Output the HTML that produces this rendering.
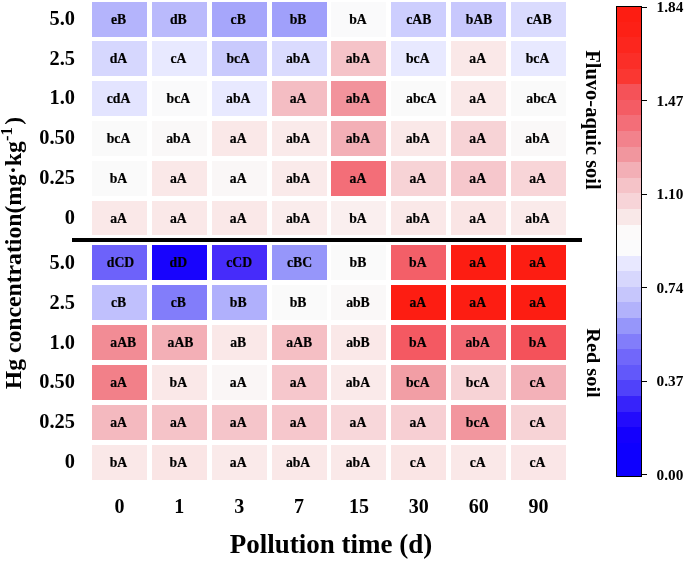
<!DOCTYPE html>
<html><head><meta charset="utf-8"><title>Heatmap</title>
<style>
html,body{margin:0;padding:0;background:#fff;}
body{width:685px;height:561px;position:relative;overflow:hidden;font-family:"Liberation Serif",serif;font-weight:bold;color:#000;}
.c{position:absolute;width:55.00px;height:34.90px;text-align:center;line-height:35.30px;font-size:13.7px;-webkit-text-stroke:0.2px #000;}
.c span{display:inline-block;position:relative;transform:scaleY(1.06);}
.r{position:absolute;left:0;width:75px;text-align:right;font-size:20px;line-height:24px;height:24px;transform:scaleX(1.02);transform-origin:100% 50%;}
.x{position:absolute;width:60px;text-align:center;font-size:20px;line-height:24px;height:24px;top:494.3px;}
.t{position:absolute;font-size:15.3px;line-height:18px;height:18px;left:656.6px;}
.k{position:absolute;left:641.8px;width:5px;height:1px;background:#000;}
.b{position:absolute;left:617.8px;width:23.5px;}
.rot{position:absolute;white-space:nowrap;transform-origin:center center;}
</style></head><body>

<div class="c" style="left:92.00px;top:1.80px;background:rgb(180,180,252)"><span style="left:-1px">eB</span></div>
<div class="c" style="left:151.86px;top:1.80px;background:rgb(186,186,252)"><span style="left:-1px">dB</span></div>
<div class="c" style="left:211.72px;top:1.80px;background:rgb(166,166,251)"><span style="left:-1px">cB</span></div>
<div class="c" style="left:271.58px;top:1.80px;background:rgb(160,160,251)"><span style="left:-1px">bB</span></div>
<div class="c" style="left:331.44px;top:1.80px;background:rgb(250,250,251)"><span style="left:-1px">bA</span></div>
<div class="c" style="left:391.30px;top:1.80px;background:rgb(205,206,254)"><span style="left:0px">cAB</span></div>
<div class="c" style="left:451.16px;top:1.80px;background:rgb(200,200,253)"><span style="left:0.5px">bAB</span></div>
<div class="c" style="left:511.02px;top:1.80px;background:rgb(218,219,254)"><span style="left:0.5px">cAB</span></div>
<div class="r" style="top:6.35px">5.0</div>
<div class="c" style="left:92.00px;top:41.10px;background:rgb(214,215,254)"><span style="left:-1px">dA</span></div>
<div class="c" style="left:151.86px;top:41.10px;background:rgb(232,233,255)"><span style="left:-1px">cA</span></div>
<div class="c" style="left:211.72px;top:41.10px;background:rgb(201,202,253)"><span style="left:-1px">bcA</span></div>
<div class="c" style="left:271.58px;top:41.10px;background:rgb(218,219,254)"><span style="left:-1px">abA</span></div>
<div class="c" style="left:331.44px;top:41.10px;background:rgb(245,195,200)"><span style="left:-1px">abA</span></div>
<div class="c" style="left:391.30px;top:41.10px;background:rgb(232,233,255)"><span style="left:-1px">bcA</span></div>
<div class="c" style="left:451.16px;top:41.10px;background:rgb(250,232,232)"><span style="left:-1px">aA</span></div>
<div class="c" style="left:511.02px;top:41.10px;background:rgb(232,233,255)"><span style="left:-1px">bcA</span></div>
<div class="r" style="top:45.65px">2.5</div>
<div class="c" style="left:92.00px;top:80.90px;background:rgb(227,228,255)"><span style="left:-1px">cdA</span></div>
<div class="c" style="left:151.86px;top:80.90px;background:rgb(250,250,251)"><span style="left:-1px">bcA</span></div>
<div class="c" style="left:211.72px;top:80.90px;background:rgb(232,233,255)"><span style="left:-1px">abA</span></div>
<div class="c" style="left:271.58px;top:80.90px;background:rgb(244,189,195)"><span style="left:-1px">aA</span></div>
<div class="c" style="left:331.44px;top:80.90px;background:rgb(242,147,156)"><span style="left:-1px">abA</span></div>
<div class="c" style="left:391.30px;top:80.90px;background:rgb(250,250,250)"><span style="left:2.5px">abcA</span></div>
<div class="c" style="left:451.16px;top:80.90px;background:rgb(250,232,232)"><span style="left:-1px">aA</span></div>
<div class="c" style="left:511.02px;top:80.90px;background:rgb(250,250,250)"><span style="left:3px">abcA</span></div>
<div class="r" style="top:85.45px">1.0</div>
<div class="c" style="left:92.00px;top:120.90px;background:rgb(250,250,250)"><span style="left:-1px">bcA</span></div>
<div class="c" style="left:151.86px;top:120.90px;background:rgb(250,248,248)"><span style="left:-1px">abA</span></div>
<div class="c" style="left:211.72px;top:120.90px;background:rgb(250,232,232)"><span style="left:-1px">aA</span></div>
<div class="c" style="left:271.58px;top:120.90px;background:rgb(250,234,234)"><span style="left:-1px">abA</span></div>
<div class="c" style="left:331.44px;top:120.90px;background:rgb(243,175,182)"><span style="left:-1px">abA</span></div>
<div class="c" style="left:391.30px;top:120.90px;background:rgb(250,232,232)"><span style="left:-1px">abA</span></div>
<div class="c" style="left:451.16px;top:120.90px;background:rgb(247,211,214)"><span style="left:-1px">aA</span></div>
<div class="c" style="left:511.02px;top:120.90px;background:rgb(250,248,248)"><span style="left:-1px">abA</span></div>
<div class="r" style="top:125.45px">0.50</div>
<div class="c" style="left:92.00px;top:160.70px;background:rgb(250,250,250)"><span style="left:-1px">bA</span></div>
<div class="c" style="left:151.86px;top:160.70px;background:rgb(250,232,232)"><span style="left:-1px">aA</span></div>
<div class="c" style="left:211.72px;top:160.70px;background:rgb(250,247,247)"><span style="left:-1px">aA</span></div>
<div class="c" style="left:271.58px;top:160.70px;background:rgb(250,234,234)"><span style="left:-1px">abA</span></div>
<div class="c" style="left:331.44px;top:160.70px;background:rgb(243,110,120)"><span style="left:-1px">aA</span></div>
<div class="c" style="left:391.30px;top:160.70px;background:rgb(247,211,214)"><span style="left:-1px">aA</span></div>
<div class="c" style="left:451.16px;top:160.70px;background:rgb(246,199,204)"><span style="left:-1px">aA</span></div>
<div class="c" style="left:511.02px;top:160.70px;background:rgb(248,213,216)"><span style="left:-1px">aA</span></div>
<div class="r" style="top:165.25px">0.25</div>
<div class="c" style="left:92.00px;top:200.60px;background:rgb(250,232,232)"><span style="left:-1px">aA</span></div>
<div class="c" style="left:151.86px;top:200.60px;background:rgb(250,232,232)"><span style="left:-1px">aA</span></div>
<div class="c" style="left:211.72px;top:200.60px;background:rgb(250,232,232)"><span style="left:-1px">aA</span></div>
<div class="c" style="left:271.58px;top:200.60px;background:rgb(250,236,236)"><span style="left:-1px">abA</span></div>
<div class="c" style="left:331.44px;top:200.60px;background:rgb(250,239,239)"><span style="left:-1px">bA</span></div>
<div class="c" style="left:391.30px;top:200.60px;background:rgb(250,232,232)"><span style="left:-1px">abA</span></div>
<div class="c" style="left:451.16px;top:200.60px;background:rgb(250,229,229)"><span style="left:-1px">aA</span></div>
<div class="c" style="left:511.02px;top:200.60px;background:rgb(250,234,234)"><span style="left:-1px">abA</span></div>
<div class="r" style="top:205.15px">0</div>
<div class="c" style="left:92.00px;top:245.30px;background:rgb(109,98,250)"><span style="left:1px">dCD</span></div>
<div class="c" style="left:151.86px;top:245.30px;background:rgb(24,4,253)"><span style="left:-1px">dD</span></div>
<div class="c" style="left:211.72px;top:245.30px;background:rgb(70,44,250)"><span style="left:0px">cCD</span></div>
<div class="c" style="left:271.58px;top:245.30px;background:rgb(150,150,250)"><span style="left:0.5px">cBC</span></div>
<div class="c" style="left:331.44px;top:245.30px;background:rgb(250,250,250)"><span style="left:-1px">bB</span></div>
<div class="c" style="left:391.30px;top:245.30px;background:rgb(243,95,104)"><span style="left:-1px">bA</span></div>
<div class="c" style="left:451.16px;top:245.30px;background:rgb(253,29,18)"><span style="left:-1px">aA</span></div>
<div class="c" style="left:511.02px;top:245.30px;background:rgb(253,29,18)"><span style="left:-1px">aA</span></div>
<div class="r" style="top:249.85px">5.0</div>
<div class="c" style="left:92.00px;top:285.17px;background:rgb(192,192,253)"><span style="left:-1px">cB</span></div>
<div class="c" style="left:151.86px;top:285.17px;background:rgb(130,125,250)"><span style="left:-1px">cB</span></div>
<div class="c" style="left:211.72px;top:285.17px;background:rgb(176,176,252)"><span style="left:-1px">bB</span></div>
<div class="c" style="left:271.58px;top:285.17px;background:rgb(250,250,250)"><span style="left:-1px">bB</span></div>
<div class="c" style="left:331.44px;top:285.17px;background:rgb(250,248,248)"><span style="left:-1px">abB</span></div>
<div class="c" style="left:391.30px;top:285.17px;background:rgb(253,29,18)"><span style="left:-1px">aA</span></div>
<div class="c" style="left:451.16px;top:285.17px;background:rgb(253,29,18)"><span style="left:-1px">aA</span></div>
<div class="c" style="left:511.02px;top:285.17px;background:rgb(253,29,18)"><span style="left:-1px">aA</span></div>
<div class="r" style="top:289.72px">2.5</div>
<div class="c" style="left:92.00px;top:325.04px;background:rgb(242,140,149)"><span style="left:3.8px">aAB</span></div>
<div class="c" style="left:151.86px;top:325.04px;background:rgb(243,175,182)"><span style="left:1.2px">aAB</span></div>
<div class="c" style="left:211.72px;top:325.04px;background:rgb(250,232,232)"><span style="left:-1px">aB</span></div>
<div class="c" style="left:271.58px;top:325.04px;background:rgb(245,191,196)"><span style="left:0.2px">aAB</span></div>
<div class="c" style="left:331.44px;top:325.04px;background:rgb(250,232,232)"><span style="left:-1px">abB</span></div>
<div class="c" style="left:391.30px;top:325.04px;background:rgb(244,89,98)"><span style="left:-1px">bA</span></div>
<div class="c" style="left:451.16px;top:325.04px;background:rgb(243,105,115)"><span style="left:-1px">abA</span></div>
<div class="c" style="left:511.02px;top:325.04px;background:rgb(244,82,90)"><span style="left:-1px">bA</span></div>
<div class="r" style="top:329.59px">1.0</div>
<div class="c" style="left:92.00px;top:364.91px;background:rgb(242,128,137)"><span style="left:-1px">aA</span></div>
<div class="c" style="left:151.86px;top:364.91px;background:rgb(250,232,232)"><span style="left:-1px">bA</span></div>
<div class="c" style="left:211.72px;top:364.91px;background:rgb(250,246,246)"><span style="left:-1px">aA</span></div>
<div class="c" style="left:271.58px;top:364.91px;background:rgb(246,199,204)"><span style="left:-1px">aA</span></div>
<div class="c" style="left:331.44px;top:364.91px;background:rgb(250,234,234)"><span style="left:-1px">abA</span></div>
<div class="c" style="left:391.30px;top:364.91px;background:rgb(242,158,165)"><span style="left:-1px">bcA</span></div>
<div class="c" style="left:451.16px;top:364.91px;background:rgb(247,211,214)"><span style="left:-1px">bcA</span></div>
<div class="c" style="left:511.02px;top:364.91px;background:rgb(243,177,184)"><span style="left:-1px">cA</span></div>
<div class="r" style="top:369.46px">0.50</div>
<div class="c" style="left:92.00px;top:404.78px;background:rgb(244,185,191)"><span style="left:-1px">aA</span></div>
<div class="c" style="left:151.86px;top:404.78px;background:rgb(245,195,200)"><span style="left:-1px">aA</span></div>
<div class="c" style="left:211.72px;top:404.78px;background:rgb(245,197,202)"><span style="left:-1px">aA</span></div>
<div class="c" style="left:271.58px;top:404.78px;background:rgb(246,199,204)"><span style="left:-1px">aA</span></div>
<div class="c" style="left:331.44px;top:404.78px;background:rgb(248,215,218)"><span style="left:-1px">aA</span></div>
<div class="c" style="left:391.30px;top:404.78px;background:rgb(247,207,211)"><span style="left:-1px">aA</span></div>
<div class="c" style="left:451.16px;top:404.78px;background:rgb(242,150,158)"><span style="left:-1px">bcA</span></div>
<div class="c" style="left:511.02px;top:404.78px;background:rgb(247,211,214)"><span style="left:-1px">cA</span></div>
<div class="r" style="top:409.33px">0.25</div>
<div class="c" style="left:92.00px;top:444.65px;background:rgb(250,232,232)"><span style="left:-1px">bA</span></div>
<div class="c" style="left:151.86px;top:444.65px;background:rgb(250,229,229)"><span style="left:-1px">bA</span></div>
<div class="c" style="left:211.72px;top:444.65px;background:rgb(250,234,234)"><span style="left:-1px">aA</span></div>
<div class="c" style="left:271.58px;top:444.65px;background:rgb(250,232,232)"><span style="left:-1px">abA</span></div>
<div class="c" style="left:331.44px;top:444.65px;background:rgb(250,233,233)"><span style="left:-1px">abA</span></div>
<div class="c" style="left:391.30px;top:444.65px;background:rgb(250,229,229)"><span style="left:-1px">cA</span></div>
<div class="c" style="left:451.16px;top:444.65px;background:rgb(250,232,232)"><span style="left:-1px">cA</span></div>
<div class="c" style="left:511.02px;top:444.65px;background:rgb(250,230,231)"><span style="left:-1px">cA</span></div>
<div class="r" style="top:449.20px">0</div>
<div style="position:absolute;left:72px;top:238.4px;width:510px;height:4px;background:#000"></div>
<div class="x" style="left:89.50px">0</div>
<div class="x" style="left:149.36px">1</div>
<div class="x" style="left:209.22px">3</div>
<div class="x" style="left:269.08px">7</div>
<div class="x" style="left:328.94px">15</div>
<div class="x" style="left:388.80px">30</div>
<div class="x" style="left:448.66px">60</div>
<div class="x" style="left:508.52px">90</div>
<div style="position:absolute;left:616.1px;top:6.4px;width:24.2px;height:468.2px;border:1px solid #000;box-sizing:content-box;overflow:hidden;background:rgb(14,0,254)">
<div style="position:absolute;left:0;width:25px;top:-1.15px;height:15.99px;background:rgb(253,29,18)"></div>
<div style="position:absolute;left:0;width:25px;top:14.44px;height:15.99px;background:rgb(253,32,22)"></div>
<div style="position:absolute;left:0;width:25px;top:30.03px;height:15.99px;background:rgb(252,38,30)"></div>
<div style="position:absolute;left:0;width:25px;top:45.62px;height:15.99px;background:rgb(251,46,40)"></div>
<div style="position:absolute;left:0;width:25px;top:61.21px;height:15.99px;background:rgb(250,55,50)"></div>
<div style="position:absolute;left:0;width:25px;top:76.80px;height:15.99px;background:rgb(245,82,88)"></div>
<div style="position:absolute;left:0;width:25px;top:92.39px;height:15.99px;background:rgb(244,92,100)"></div>
<div style="position:absolute;left:0;width:25px;top:107.98px;height:15.99px;background:rgb(243,110,120)"></div>
<div style="position:absolute;left:0;width:25px;top:123.57px;height:15.99px;background:rgb(242,130,140)"></div>
<div style="position:absolute;left:0;width:25px;top:139.16px;height:15.99px;background:rgb(241,150,158)"></div>
<div style="position:absolute;left:0;width:25px;top:154.75px;height:15.99px;background:rgb(243,175,182)"></div>
<div style="position:absolute;left:0;width:25px;top:170.34px;height:15.99px;background:rgb(245,195,200)"></div>
<div style="position:absolute;left:0;width:25px;top:185.93px;height:15.99px;background:rgb(247,212,216)"></div>
<div style="position:absolute;left:0;width:25px;top:201.52px;height:15.99px;background:rgb(249,232,232)"></div>
<div style="position:absolute;left:0;width:25px;top:217.11px;height:15.99px;background:rgb(252,250,250)"></div>
<div style="position:absolute;left:0;width:25px;top:232.70px;height:15.99px;background:rgb(251,251,252)"></div>
<div style="position:absolute;left:0;width:25px;top:248.29px;height:15.99px;background:rgb(232,232,255)"></div>
<div style="position:absolute;left:0;width:25px;top:263.88px;height:15.99px;background:rgb(215,215,253)"></div>
<div style="position:absolute;left:0;width:25px;top:279.47px;height:15.99px;background:rgb(198,198,252)"></div>
<div style="position:absolute;left:0;width:25px;top:295.06px;height:15.99px;background:rgb(178,178,251)"></div>
<div style="position:absolute;left:0;width:25px;top:310.65px;height:15.99px;background:rgb(150,150,250)"></div>
<div style="position:absolute;left:0;width:25px;top:326.24px;height:15.99px;background:rgb(130,125,250)"></div>
<div style="position:absolute;left:0;width:25px;top:341.83px;height:15.99px;background:rgb(113,103,250)"></div>
<div style="position:absolute;left:0;width:25px;top:357.42px;height:15.99px;background:rgb(98,88,250)"></div>
<div style="position:absolute;left:0;width:25px;top:373.01px;height:15.99px;background:rgb(80,66,250)"></div>
<div style="position:absolute;left:0;width:25px;top:388.60px;height:15.99px;background:rgb(55,35,250)"></div>
<div style="position:absolute;left:0;width:25px;top:404.19px;height:15.99px;background:rgb(35,12,252)"></div>
<div style="position:absolute;left:0;width:25px;top:419.78px;height:15.99px;background:rgb(20,0,253)"></div>
<div style="position:absolute;left:0;width:25px;top:435.37px;height:15.99px;background:rgb(14,0,254)"></div>
<div style="position:absolute;left:0;width:25px;top:450.96px;height:15.99px;background:rgb(14,0,254)"></div>
</div>
<div class="k" style="top:6.9px"></div>
<div class="t" style="top:-1.7px">1.84</div>
<div class="k" style="top:100.4px"></div>
<div class="t" style="top:91.8px">1.47</div>
<div class="k" style="top:193.9px"></div>
<div class="t" style="top:185.3px">1.10</div>
<div class="k" style="top:287.4px"></div>
<div class="t" style="top:278.8px">0.74</div>
<div class="k" style="top:380.9px"></div>
<div class="t" style="top:372.3px">0.37</div>
<div class="k" style="top:474.4px"></div>
<div class="t" style="top:465.8px">0.00</div>
<div class="rot" id="fl" style="left:592.6px;top:119.8px;font-size:20.5px;line-height:24px;transform:translate(-50%,-50%) rotate(90deg)">Fluvo-aquic soil</div>
<div class="rot" id="rs" style="left:593.8px;top:363.4px;font-size:20.3px;line-height:24px;transform:translate(-50%,-50%) rotate(90deg) scaleY(0.97)">Red soil</div>
<div class="rot" id="yl" style="left:13.3px;top:253.4px;font-size:23.7px;line-height:28px;transform:translate(-50%,-50%) rotate(-90deg)">Hg concentration(mg·kg<sup style="font-size:16.5px;line-height:0;vertical-align:9px;margin:0 2.5px 0 0.3px">-1</sup>)</div>
<div class="rot" id="xl" style="left:331px;top:544px;font-size:27px;line-height:30px;transform:translate(-50%,-50%)">Pollution time (d)</div>
</body></html>
